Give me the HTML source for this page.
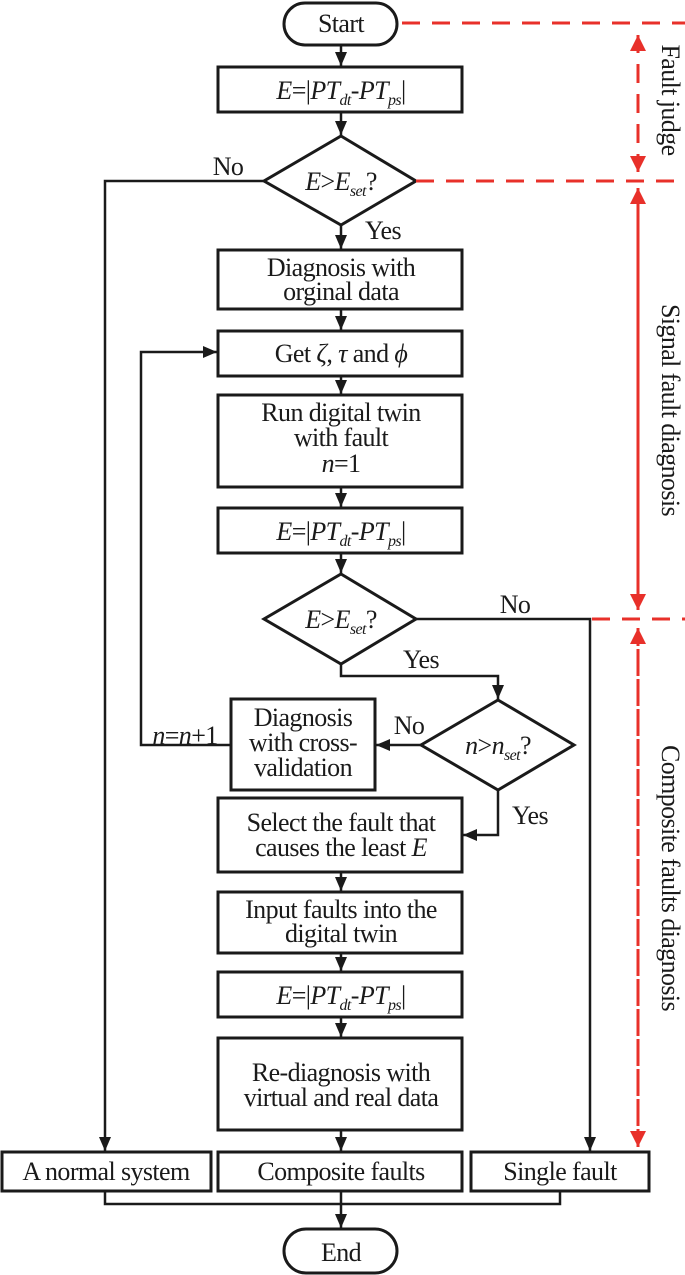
<!DOCTYPE html>
<html><head><meta charset="utf-8"><style>
html,body{margin:0;padding:0;background:#fff;}
svg{display:block;}
text{font-family:"Liberation Serif",serif;font-size:26px;letter-spacing:-0.6px;fill:#1a1a1a;}
</style></head><body>
<svg width="685" height="1275" viewBox="0 0 685 1275" xmlns="http://www.w3.org/2000/svg">
<defs>
<marker id="a" markerWidth="14" markerHeight="14" refX="14" refY="7" orient="auto" markerUnits="userSpaceOnUse"><path d="M0,1 L14,7 L0,13 z" fill="#1a1a1a"/></marker>
<marker id="r" markerWidth="16" markerHeight="16" refX="16" refY="8" orient="auto" markerUnits="userSpaceOnUse"><path d="M0,0 L16,8 L0,16 z" fill="#e8302a"/></marker>
</defs>
<g fill="none" stroke="#1a1a1a" stroke-width="3">
<rect x="284" y="3" width="113" height="42" rx="21"/>
<rect x="218" y="67" width="244" height="45"/>
<polygon points="341,136 416,181 341,225 264,181"/>
<rect x="218" y="250" width="244" height="59"/>
<rect x="218" y="331" width="244" height="45"/>
<rect x="218" y="395" width="244" height="92"/>
<rect x="218" y="508" width="244" height="45"/>
<polygon points="341,574 416,619 341,664 264,619"/>
<polygon points="498,700 574,745 498,790 421,745"/>
<rect x="231" y="699" width="144" height="91"/>
<rect x="218" y="798" width="244" height="74"/>
<rect x="218" y="892" width="244" height="61"/>
<rect x="218" y="972" width="244" height="45"/>
<rect x="218" y="1038" width="244" height="92"/>
<rect x="2" y="1152" width="209" height="39"/>
<rect x="218" y="1152" width="244" height="39"/>
<rect x="471" y="1152" width="178" height="39"/>
<rect x="284" y="1229" width="113" height="44" rx="22"/>
</g>
<g fill="none" stroke="#1a1a1a" stroke-width="2.5">
<line x1="341" y1="45" x2="341" y2="66" marker-end="url(#a)"/>
<line x1="341" y1="112" x2="341" y2="135" marker-end="url(#a)"/>
<line x1="341" y1="225" x2="341" y2="249" marker-end="url(#a)"/>
<line x1="341" y1="309" x2="341" y2="330" marker-end="url(#a)"/>
<line x1="341" y1="376" x2="341" y2="394" marker-end="url(#a)"/>
<line x1="341" y1="487" x2="341" y2="507" marker-end="url(#a)"/>
<line x1="341" y1="553" x2="341" y2="573" marker-end="url(#a)"/>
<polyline points="341,664 341,676 498,676 498,699" marker-end="url(#a)"/>
<line x1="421" y1="745" x2="376" y2="745" marker-end="url(#a)"/>
<polyline points="231,745 141,745 141,352 217,352" marker-end="url(#a)"/>
<polyline points="498,790 498,835 463,835" marker-end="url(#a)"/>
<line x1="341" y1="872" x2="341" y2="891" marker-end="url(#a)"/>
<line x1="341" y1="953" x2="341" y2="971" marker-end="url(#a)"/>
<line x1="341" y1="1017" x2="341" y2="1037" marker-end="url(#a)"/>
<line x1="341" y1="1130" x2="341" y2="1151" marker-end="url(#a)"/>
<polyline points="264,181 105,181 105,1151" marker-end="url(#a)"/>
<polyline points="416,619 590,619 590,1151" marker-end="url(#a)"/>
<polyline points="105,1191 105,1204 560,1204 560,1191"/>
<line x1="341" y1="1191" x2="341" y2="1228" marker-end="url(#a)"/>
</g>
<g fill="none" stroke="#e8302a" stroke-width="3" stroke-dasharray="18,12">
<line x1="402" y1="23" x2="685" y2="23"/>
<line x1="416" y1="181" x2="685" y2="181"/>
<line x1="592" y1="619" x2="685" y2="619"/>
<line x1="638" y1="172" x2="638" y2="35" marker-end="url(#r)"/>
<line x1="638" y1="35" x2="638" y2="172" marker-end="url(#r)"/>
<line x1="638" y1="610" x2="638" y2="188" marker-end="url(#r)"/>
<line x1="638" y1="188" x2="638" y2="610" marker-end="url(#r)"/>
<line x1="638" y1="1147" x2="638" y2="628" marker-end="url(#r)"/>
<line x1="638" y1="628" x2="638" y2="1147" marker-end="url(#r)"/>
</g>
<g text-anchor="middle">
<text x="341" y="32">Start</text>
<text x="341" y="99"><tspan font-style="italic">E</tspan>=|<tspan font-style="italic">PT<tspan font-size="16" dy="6">dt</tspan><tspan dy="-6">-PT</tspan><tspan font-size="16" dy="6">ps</tspan></tspan><tspan dy="-6">|</tspan></text>
<text x="341" y="190"><tspan font-style="italic">E</tspan>&gt;<tspan font-style="italic">E<tspan font-size="16" dy="6">set</tspan></tspan><tspan dy="-6">?</tspan></text>
<text x="341" y="276">Diagnosis with</text>
<text x="341" y="300">orginal data</text>
<text x="341" y="362">Get  <tspan font-style="italic">ζ</tspan>,  <tspan font-style="italic">τ</tspan> and  <tspan font-style="italic">ϕ</tspan></text>
<text x="341" y="421">Run digital twin</text>
<text x="341" y="446">with fault</text>
<text x="341" y="472"><tspan font-style="italic">n</tspan>=1</text>
<text x="341" y="540"><tspan font-style="italic">E</tspan>=|<tspan font-style="italic">PT<tspan font-size="16" dy="6">dt</tspan><tspan dy="-6">-PT</tspan><tspan font-size="16" dy="6">ps</tspan></tspan><tspan dy="-6">|</tspan></text>
<text x="341" y="628"><tspan font-style="italic">E</tspan>&gt;<tspan font-style="italic">E<tspan font-size="16" dy="6">set</tspan></tspan><tspan dy="-6">?</tspan></text>
<text x="498" y="754"><tspan font-style="italic">n</tspan>&gt;<tspan font-style="italic">n<tspan font-size="16" dy="6">set</tspan></tspan><tspan dy="-6">?</tspan></text>
<text x="303" y="726">Diagnosis</text>
<text x="303" y="751">with cross-</text>
<text x="303" y="776">validation</text>
<text x="341" y="831">Select the fault that</text>
<text x="341" y="856">causes the least <tspan font-style="italic">E</tspan></text>
<text x="341" y="918">Input faults into the</text>
<text x="341" y="942">digital twin</text>
<text x="341" y="1004"><tspan font-style="italic">E</tspan>=|<tspan font-style="italic">PT<tspan font-size="16" dy="6">dt</tspan><tspan dy="-6">-PT</tspan><tspan font-size="16" dy="6">ps</tspan></tspan><tspan dy="-6">|</tspan></text>
<text x="341" y="1081">Re-diagnosis with</text>
<text x="341" y="1106">virtual and real data</text>
<text x="106" y="1180">A normal system</text>
<text x="341" y="1180">Composite faults</text>
<text x="560" y="1180">Single fault</text>
<text x="341" y="1261">End</text>
<text x="228" y="175">No</text>
<text x="383" y="239">Yes</text>
<text x="515" y="613">No</text>
<text x="421" y="668">Yes</text>
<text x="409" y="734">No</text>
<text x="530" y="824">Yes</text>
<text x="185" y="744"><tspan font-style="italic">n</tspan>=<tspan font-style="italic">n</tspan>+1</text>
<text transform="translate(662,100) rotate(90)">Fault judge</text>
<text transform="translate(662,410) rotate(90)">Signal fault diagnosis</text>
<text transform="translate(662,878) rotate(90)">Composite faults diagnosis</text>
</g>
</svg>
</body></html>
